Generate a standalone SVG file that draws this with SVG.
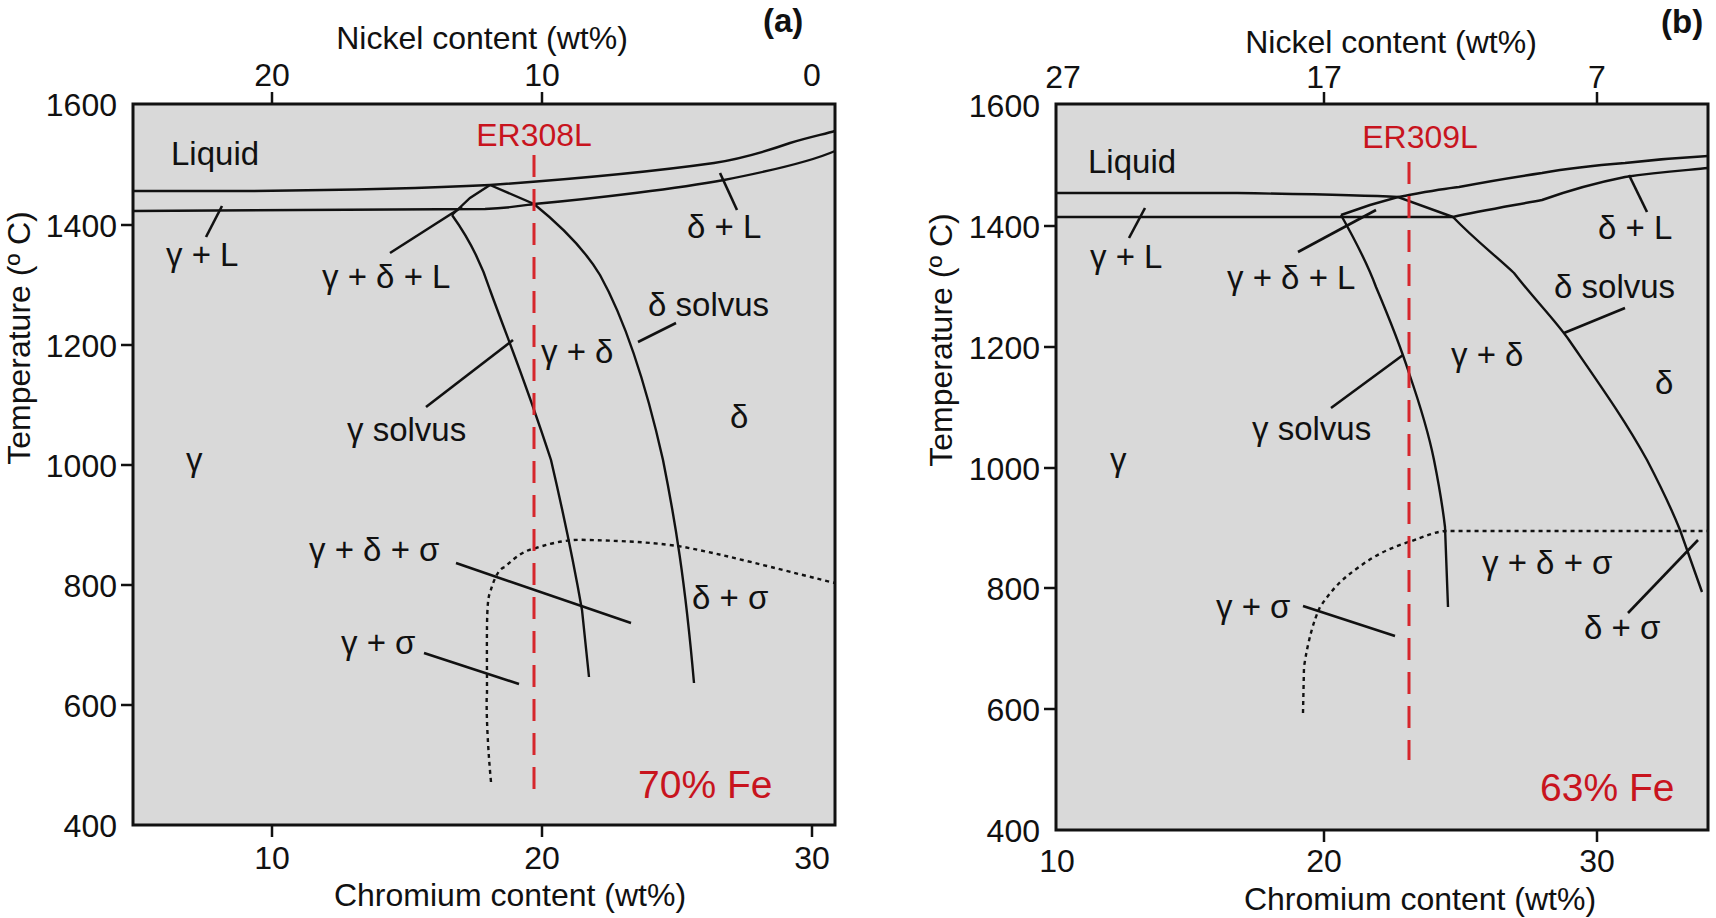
<svg xmlns="http://www.w3.org/2000/svg" width="1716" height="918" viewBox="0 0 1716 918">
<style>
text{font-family:"Liberation Sans",Arial,sans-serif;fill:#111}
.lb{font-size:33px}
.ax{font-size:32px}
.tk{font-size:32px}
.red{fill:#c8141e;font-size:32px}
.big{font-size:39px}
.c{fill:none;stroke:#111;stroke-width:2.4}
.p{fill:none;stroke:#111;stroke-width:2.6}
.d{fill:none;stroke:#111;stroke-width:2.4;stroke-dasharray:4 4}
.r{fill:none;stroke:#d6262c;stroke-width:3;stroke-dasharray:22 12}
.fr{fill:#d9d9d9;stroke:#111;stroke-width:3}
</style>
<g id="panel-a">
<rect class="fr" x="133" y="104" width="702" height="721"/>
<g id="axes-a" stroke="#111" stroke-width="2.5">
<line x1="272" y1="104" x2="272" y2="92"/><line x1="542" y1="104" x2="542" y2="92"/>
<line x1="272" y1="825" x2="272" y2="837"/><line x1="542" y1="825" x2="542" y2="837"/><line x1="812" y1="825" x2="812" y2="837"/>
<line x1="133" y1="225" x2="121" y2="225"/><line x1="133" y1="345" x2="121" y2="345"/><line x1="133" y1="465" x2="121" y2="465"/><line x1="133" y1="585" x2="121" y2="585"/><line x1="133" y1="705" x2="121" y2="705"/>
</g>
<g text-anchor="end" class="tk">
<text x="117" y="116">1600</text><text x="117" y="237">1400</text><text x="117" y="357">1200</text><text x="117" y="477">1000</text><text x="117" y="597">800</text><text x="117" y="717">600</text><text x="117" y="837">400</text>
</g>
<g text-anchor="middle" class="tk">
<text x="272" y="86">20</text><text x="542" y="86">10</text><text x="812" y="86">0</text>
<text x="272" y="869">10</text><text x="542" y="869">20</text><text x="812" y="869">30</text>
</g>
<text class="ax" x="482" y="49" text-anchor="middle">Nickel content (wt%)</text>
<text class="ax" x="510" y="906" text-anchor="middle">Chromium content (wt%)</text>
<text class="ax" transform="translate(30,338) rotate(-90)" text-anchor="middle">Temperature (º C)</text>
<text x="763" y="32" font-size="33" font-weight="bold">(a)</text>
</g>
<g id="panel-b">
<rect class="fr" x="1056" y="104" width="652" height="726"/>
<g stroke="#111" stroke-width="2.5">
<line x1="1324" y1="104" x2="1324" y2="92"/><line x1="1597" y1="104" x2="1597" y2="92"/>
<line x1="1324" y1="830" x2="1324" y2="842"/><line x1="1597" y1="830" x2="1597" y2="842"/>
<line x1="1056" y1="226" x2="1044" y2="226"/><line x1="1056" y1="347" x2="1044" y2="347"/><line x1="1056" y1="468" x2="1044" y2="468"/><line x1="1056" y1="588" x2="1044" y2="588"/><line x1="1056" y1="709" x2="1044" y2="709"/>
</g>
<g text-anchor="end" class="tk">
<text x="1040" y="117">1600</text><text x="1040" y="238">1400</text><text x="1040" y="359">1200</text><text x="1040" y="480">1000</text><text x="1040" y="600">800</text><text x="1040" y="721">600</text><text x="1040" y="842">400</text>
</g>
<g text-anchor="middle" class="tk">
<text x="1063" y="88">27</text><text x="1324" y="88">17</text><text x="1597" y="88">7</text>
<text x="1057" y="872">10</text><text x="1324" y="872">20</text><text x="1597" y="872">30</text>
</g>
<text class="ax" x="1391" y="53" text-anchor="middle">Nickel content (wt%)</text>
<text class="ax" x="1420" y="910" text-anchor="middle">Chromium content (wt%)</text>
<text class="ax" transform="translate(952,340) rotate(-90)" text-anchor="middle">Temperature (º C)</text>
<text x="1661" y="33" font-size="33" font-weight="bold">(b)</text>
</g>
<g id="connectors">
<path class="c" d="M133,191 L250,191 C350,190 430,188 490,185 C560,180 650,172 714,163 C745,158 770,150 790,143 C810,137 825,134 835,131"/>
<path class="c" d="M133,211 L485,209 C510,208 520,206 534,204 C600,198 680,188 724,180 C770,171 810,162 835,151"/>
<path class="c" d="M452,215 L470,198 L490,185"/>
<path class="c" d="M490,185 L534,204 C560,225 585,250 600,275 C625,320 645,380 663,460 C675,520 685,580 694,683"/>
<path class="c" d="M452,215 C470,240 482,265 490,290 C510,345 525,380 551,460 C565,520 575,570 582,610 L589,677"/>
<path class="d" d="M491,782 C487,740 486,700 487,693 C487,640 486,600 490,593 C495,575 500,568 505,567 C515,557 525,550 536,548 C555,542 570,539 587,540 C630,541 660,543 684,547 C730,556 770,567 835,583"/>
<path class="r" d="M534,155 L534,793"/>
<path class="p" d="M222,206 L206,237"/>
<path class="p" d="M390,253 L462,207"/>
<path class="p" d="M720,173 L737,210"/>
<path class="p" d="M638,342 L676,323"/>
<path class="p" d="M426,407 L513,340"/>
<path class="p" d="M456,563 L631,623"/>
<path class="p" d="M424,653 L519,684"/>
<path class="c" d="M1056,193 L1237,193 C1300,194 1360,195 1398,197 C1420,193 1440,189 1459,187 C1490,181 1515,177 1542,173 C1570,168 1600,165 1625,163 C1660,159 1690,157 1708,156"/>
<path class="c" d="M1056,217 L1453,217 C1480,211 1510,206 1542,200 C1570,190 1600,182 1625,177 C1660,172 1690,170 1708,168"/>
<path class="c" d="M1341,215 L1370,205 L1398,197 L1453,217"/>
<path class="c" d="M1453,217 C1475,240 1495,255 1514,273 C1535,300 1555,320 1569,340 C1600,385 1625,420 1647,460 C1660,485 1670,505 1680,530 L1702,592"/>
<path class="c" d="M1341,215 C1355,240 1368,265 1376,287 C1390,320 1400,345 1409,373 C1420,405 1428,430 1434,460 C1440,490 1443,510 1445,527 L1448,607"/>
<path class="d" d="M1303,713 L1304,667 C1308,640 1314,620 1320,607 C1335,585 1345,577 1359,567 C1375,555 1392,547 1409,542 C1425,536 1435,532 1445,531 L1708,531"/>
<path class="r" d="M1409,162 L1409,760"/>
<path class="p" d="M1145,208 L1129,238"/>
<path class="p" d="M1298,252 L1376,210"/>
<path class="p" d="M1629,175 L1647,212"/>
<path class="p" d="M1564,333 L1625,308"/>
<path class="p" d="M1331,408 L1403,355"/>
<path class="p" d="M1628,613 L1698,540"/>
<path class="p" d="M1303,606 L1395,636"/>
</g>
<g id="labels-a" class="lb">
<text x="171" y="165">Liquid</text>
<text x="166" y="266">γ + L</text>
<text x="322" y="288">γ + δ + L</text>
<text x="687" y="238">δ  + L</text>
<text x="648" y="316">δ solvus</text>
<text x="541" y="363">γ + δ</text>
<text x="347" y="441">γ solvus</text>
<text x="730" y="428">δ</text>
<text x="186" y="471">γ</text>
<text x="309" y="561">γ + δ + σ</text>
<text x="341" y="654">γ + σ</text>
<text x="692" y="609">δ + σ</text>
<text class="red" x="534" y="146" text-anchor="middle">ER308L</text>
<text class="red big" x="638" y="798">70% Fe</text>
</g>
<g id="labels-b" class="lb">
<text x="1088" y="173">Liquid</text>
<text x="1090" y="268">γ + L</text>
<text x="1227" y="289">γ + δ + L</text>
<text x="1598" y="239">δ + L</text>
<text x="1554" y="298">δ solvus</text>
<text x="1451" y="366">γ + δ</text>
<text x="1655" y="394">δ</text>
<text x="1252" y="440">γ solvus</text>
<text x="1110" y="471">γ</text>
<text x="1482" y="574">γ + δ + σ</text>
<text x="1584" y="639">δ + σ</text>
<text x="1216" y="618">γ + σ</text>
<text class="red" x="1420" y="148" text-anchor="middle">ER309L</text>
<text class="red big" x="1540" y="801">63% Fe</text>
</g>
</svg>
